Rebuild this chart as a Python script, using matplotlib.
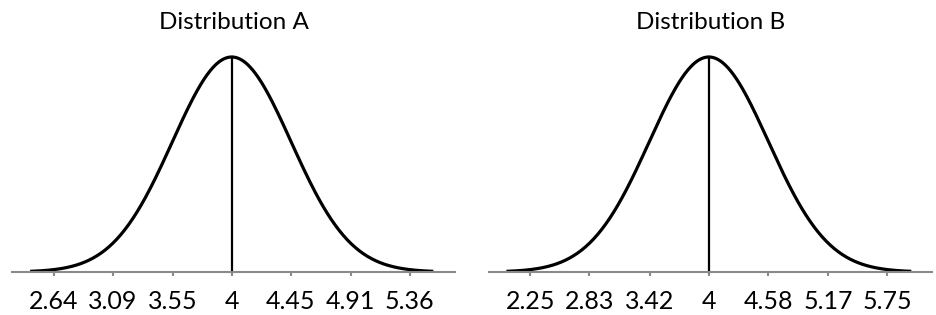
import numpy as np
import matplotlib.pyplot as plt

plt.rcParams['font.family'] = ['Lato', 'DejaVu Sans']

titles = ["Distribution A", "Distribution B"]
means = [4.0, 4.0]
sds = [0.4533, 0.5833]
tick_values = [[2.64, 3.09, 3.55, 4, 4.45, 4.91, 5.36],
               [2.25, 2.83, 3.42, 4, 4.58, 5.17, 5.75]]
tick_labels = [["2.64", "3.09", "3.55", "4", "4.45", "4.91", "5.36"],
               ["2.25", "2.83", "3.42", "4", "4.58", "5.17", "5.75"]]
xlims = [(2.320, 5.707), (1.846, 6.186)]

fig = plt.figure(figsize=(9.37, 3.15), dpi=100)
boxes = [[12/937, 43/315, 443/937, 215/315],
         [489/937, 43/315, 443/937, 215/315]]

for i in range(2):
    ax = fig.add_axes(boxes[i])
    mu, sd = means[i], sds[i]
    x = np.linspace(mu - 3.4*sd, mu + 3.4*sd, 400)
    y = np.exp(-0.5*((x - mu)/sd)**2) / (sd*np.sqrt(2*np.pi))
    peak = y.max()
    ax.plot(x, y, color='black', lw=2.3, clip_on=False, solid_capstyle='butt')
    ax.plot([mu, mu], [0, peak], color='black', lw=1.6, clip_on=False)
    ax.set_xlim(*xlims[i])
    ax.set_ylim(0, peak)
    ax.set_xticks(tick_values[i])
    ax.set_xticklabels(tick_labels[i])
    ax.set_yticks([])
    for s in ['top', 'left', 'right']:
        ax.spines[s].set_visible(False)
    ax.spines['bottom'].set_color('#8a8a8a')
    ax.spines['bottom'].set_linewidth(1.5)
    ax.tick_params(axis='x', direction='out', length=3, width=1.5,
                   color='#8a8a8a', labelcolor='black', labelsize=18, pad=10)
    ax.set_title(titles[i], fontsize=17.5, pad=20)

fig.savefig('out.png', dpi=100)
